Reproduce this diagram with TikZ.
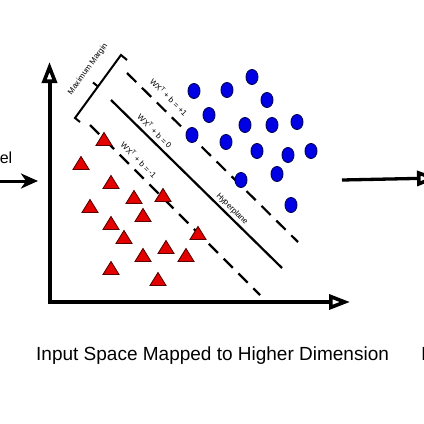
\documentclass[tikz,border=0pt]{standalone}
\usepackage{fontspec}
\setmainfont{Liberation Sans}
\usetikzlibrary{arrows.meta}

\tikzset{
  bluept/.style={draw=blue!35!black, fill=blue!90!black, line width=0.9pt},
  redpt/.style={draw=red!35!black, fill=red!90!black, line width=0.9pt},
  marginline/.style={line width=2.2pt, dash pattern=on 13pt off 8pt},
  linelabel/.style={font=\fontsize{8}{9}\selectfont, rotate=-45, inner sep=0pt},
  axisline/.style={line width=4pt, -{Triangle[open,length=21pt,width=15pt,line width=3.6pt]}}
}

\begin{document}
\begin{tikzpicture}[x=1pt,y=-1pt]
\useasboundingbox (0,0) rectangle (424,424);
% axes
\coordinate (origin) at (49.5,302);
\coordinate (ytip) at (49.5,62);
\coordinate (xtip) at (350,302);
\draw[axisline] (origin) -- (ytip);
\draw[axisline] ([xshift=-2pt]origin) -- (xtip);
% arrows in and out
\coordinate (inA) at (-5,181); \coordinate (inB) at (38,181);
\draw[line width=3pt,-{Stealth[length=17pt,width=15pt,inset=5pt]}] (inA) -- (inB);
\coordinate (outA) at (342,180); \coordinate (outB) at (438,178);
\draw[axisline,line width=3.3pt] (outA) -- (outB);
\node[anchor=base east,inner sep=0pt,font=\fontsize{16}{18}\selectfont] (model) at (12.5,163) {el};
% margins and hyperplane
\coordinate (upA) at (127,73);  \coordinate (upB) at (298,242);
\coordinate (hpA) at (111,100); \coordinate (hpB) at (282,268);
\coordinate (loA) at (90,125);  \coordinate (loB) at (260,295);
\draw[marginline] (upA) -- (upB);
\draw[line width=2.2pt] (hpA) -- (hpB);
\draw[marginline] (loA) -- (loB);
\node[linelabel] (lplus) at (169,97) {WX\textsuperscript{T} + b = +1};
\node[linelabel] (lzero) at (155,131) {WX\textsuperscript{T} + b = 0};
\node[linelabel] (lminus) at (139,160) {WX\textsuperscript{T} + b = -1};
\node[linelabel] (hyper) at (232,209) {Hyperplane};
% maximum margin bracket
\draw[line width=2pt] (80,122) -- (75,118) -- (121,55) -- (127,60);
\draw[line width=2pt] (98,86.5) -- (93,82.5);
\node[font=\fontsize{8}{9}\selectfont, rotate=54, inner sep=0pt] (mmargin) at (88,69) {Maximum Margin};
% class points
\foreach \x/\y in {194/91,227/90,252/77,267/100,209/115,245/125,272/125,297/122,
                   192/135,226/142,257/151,288/155,311/151,241/180,277/174,291/205}
  \draw[bluept] (\x,\y) ellipse [x radius=6pt, y radius=7.5pt];
\foreach \x/\y in {104/139,81/163,111/182,134/197,163/195,90/206,143/215,111/223,
                   124/237,198/233,166/247,143/255,186/255,111/268,158/279}
  \draw[redpt] (\x-8,\y+6.5) -- (\x+8,\y+6.5) -- (\x,\y-6.5) -- cycle;
% caption
\node[anchor=base west,inner sep=0pt,font=\fontsize{19}{22}\selectfont] (caption) at (36,360) {Input Space Mapped to Higher Dimension};
\node[anchor=base west,inner sep=0pt,font=\fontsize{19}{22}\selectfont] (nextcap) at (421,360) {I};
\end{tikzpicture}
\end{document}
